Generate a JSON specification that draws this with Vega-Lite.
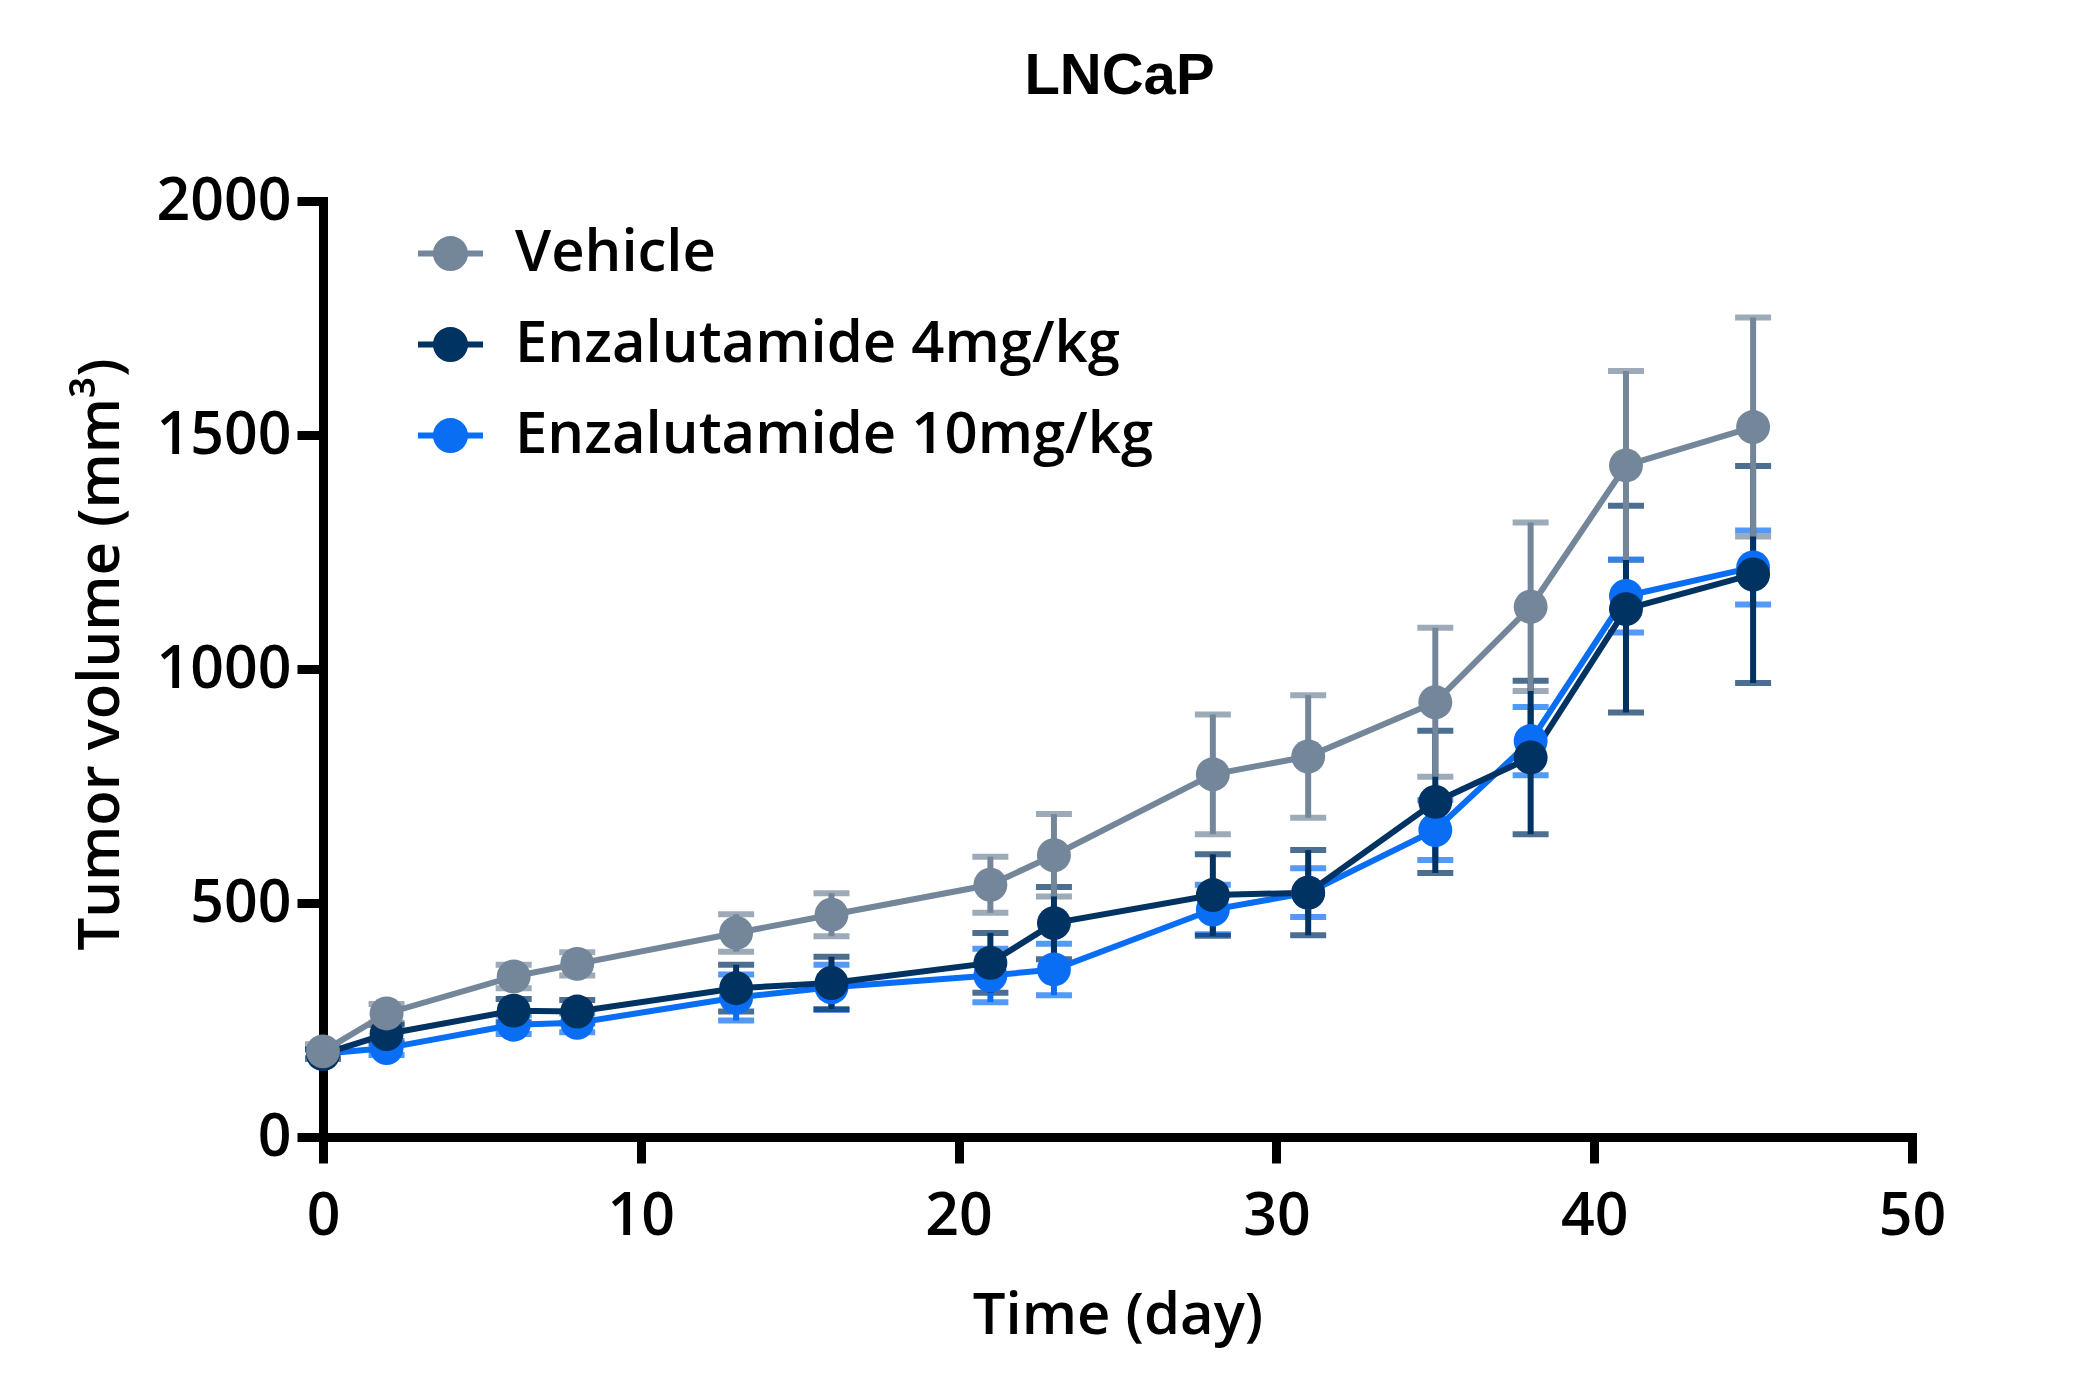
{
  "$schema": "https://vega.github.io/schema/vega-lite/v6.json",
  "description": "LNCaP tumor volume over time, mean with SEM error bars",
  "autosize": "none",
  "width": 1589,
  "height": 936,
  "padding": {"left": 323, "top": 201, "right": 179, "bottom": 256},
  "background": "white",
  "title": {
    "text": "LNCaP",
    "font": "Liberation Sans",
    "fontSize": 58,
    "fontWeight": "bold",
    "color": "black",
    "anchor": "middle",
    "baseline": "alphabetic",
    "offset": 20,
    "dx": 2
  },
  "data": {
    "values": [
      {"group": "Enzalutamide 10mg/kg", "day": 0, "vol": 178, "sem": 10},
      {"group": "Enzalutamide 10mg/kg", "day": 2, "vol": 190, "sem": 15},
      {"group": "Enzalutamide 10mg/kg", "day": 6, "vol": 240, "sem": 20},
      {"group": "Enzalutamide 10mg/kg", "day": 8, "vol": 244, "sem": 20},
      {"group": "Enzalutamide 10mg/kg", "day": 13, "vol": 298, "sem": 49},
      {"group": "Enzalutamide 10mg/kg", "day": 16, "vol": 320, "sem": 48},
      {"group": "Enzalutamide 10mg/kg", "day": 21, "vol": 345, "sem": 57},
      {"group": "Enzalutamide 10mg/kg", "day": 23, "vol": 358, "sem": 55},
      {"group": "Enzalutamide 10mg/kg", "day": 28, "vol": 486, "sem": 53},
      {"group": "Enzalutamide 10mg/kg", "day": 31, "vol": 522, "sem": 52},
      {"group": "Enzalutamide 10mg/kg", "day": 35, "vol": 656, "sem": 64},
      {"group": "Enzalutamide 10mg/kg", "day": 38, "vol": 846, "sem": 73},
      {"group": "Enzalutamide 10mg/kg", "day": 41, "vol": 1156, "sem": 78},
      {"group": "Enzalutamide 10mg/kg", "day": 45, "vol": 1217, "sem": 79},
      {"group": "Enzalutamide 4mg/kg", "day": 0, "vol": 177, "sem": 10},
      {"group": "Enzalutamide 4mg/kg", "day": 2, "vol": 220, "sem": 20},
      {"group": "Enzalutamide 4mg/kg", "day": 6, "vol": 270, "sem": 25},
      {"group": "Enzalutamide 4mg/kg", "day": 8, "vol": 268, "sem": 25},
      {"group": "Enzalutamide 4mg/kg", "day": 13, "vol": 318, "sem": 50},
      {"group": "Enzalutamide 4mg/kg", "day": 16, "vol": 329, "sem": 56},
      {"group": "Enzalutamide 4mg/kg", "day": 21, "vol": 372, "sem": 64},
      {"group": "Enzalutamide 4mg/kg", "day": 23, "vol": 457, "sem": 77},
      {"group": "Enzalutamide 4mg/kg", "day": 28, "vol": 517, "sem": 87},
      {"group": "Enzalutamide 4mg/kg", "day": 31, "vol": 522, "sem": 91},
      {"group": "Enzalutamide 4mg/kg", "day": 35, "vol": 716, "sem": 152},
      {"group": "Enzalutamide 4mg/kg", "day": 38, "vol": 811, "sem": 164},
      {"group": "Enzalutamide 4mg/kg", "day": 41, "vol": 1128, "sem": 221},
      {"group": "Enzalutamide 4mg/kg", "day": 45, "vol": 1202, "sem": 232},
      {"group": "Vehicle", "day": 0, "vol": 183, "sem": 15},
      {"group": "Vehicle", "day": 2, "vol": 264, "sem": 20},
      {"group": "Vehicle", "day": 6, "vol": 343, "sem": 25},
      {"group": "Vehicle", "day": 8, "vol": 370, "sem": 25},
      {"group": "Vehicle", "day": 13, "vol": 436, "sem": 40},
      {"group": "Vehicle", "day": 16, "vol": 475, "sem": 46},
      {"group": "Vehicle", "day": 21, "vol": 539, "sem": 60},
      {"group": "Vehicle", "day": 23, "vol": 602, "sem": 88},
      {"group": "Vehicle", "day": 28, "vol": 775, "sem": 128},
      {"group": "Vehicle", "day": 31, "vol": 813, "sem": 131},
      {"group": "Vehicle", "day": 35, "vol": 929, "sem": 159},
      {"group": "Vehicle", "day": 38, "vol": 1133, "sem": 180},
      {"group": "Vehicle", "day": 41, "vol": 1435, "sem": 202},
      {"group": "Vehicle", "day": 45, "vol": 1517, "sem": 234}
    ]
  },
  "encoding": {
    "x": {
      "field": "day",
      "type": "quantitative",
      "title": "Time (day)",
      "scale": {"domain": [0, 50], "nice": false},
      "axis": {
        "values": [0, 10, 20, 30, 40, 50],
        "format": "d",
        "labelPadding": 24,
        "titlePadding": 41
      }
    },
    "y": {
      "field": "vol",
      "type": "quantitative",
      "title": "Tumor volume (mm³)",
      "scale": {"domain": [0, 2000], "nice": false},
      "axis": {
        "values": [0, 500, 1000, 1500, 2000],
        "format": "d",
        "labelPadding": 6,
        "titlePadding": 26,
        "titleY": 453
      }
    },
    "color": {
      "field": "group",
      "type": "nominal",
      "scale": {
        "domain": ["Vehicle", "Enzalutamide 4mg/kg", "Enzalutamide 10mg/kg"],
        "range": ["#74879a", "#003262", "#0a6ef5"]
      },
      "legend": {
        "title": null,
        "orient": "none",
        "legendX": 95,
        "legendY": 20,
        "padding": 0,
        "symbolType": "M -1 -0.09 L 1 -0.09 L 1 0.09 L -1 0.09 Z M 0.54 0 A 0.54 0.54 0 1 1 -0.54 0 A 0.54 0.54 0 1 1 0.54 0 Z",
        "symbolSize": 4225,
        "symbolStrokeWidth": 0,
        "symbolOpacity": 1,
        "labelFont": "Open Sans",
        "labelFontSize": 58,
        "labelFontWeight": 600,
        "labelColor": "black",
        "labelOffset": 32,
        "labelLimit": 1000,
        "rowPadding": 29
      }
    }
  },
  "layer": [
    {
      "mark": {"type": "errorbar", "ticks": true, "size": 36, "thickness": 6},
      "encoding": {"yError": {"field": "sem"}}
    },
    {
      "mark": {"type": "line", "strokeWidth": 6},
      "encoding": {}
    },
    {
      "mark": {"type": "point", "filled": true, "size": 1150, "opacity": 1, "strokeWidth": 0},
      "encoding": {}
    }
  ],
  "config": {
    "font": "Open Sans",
    "view": {"stroke": null},
    "axis": {
      "grid": false,
      "domainColor": "black",
      "domainWidth": 9,
      "domainCap": "square",
      "tickColor": "black",
      "tickWidth": 9,
      "tickSize": 26,
      "labelFont": "Open Sans",
      "labelFontSize": 59,
      "labelFontWeight": 600,
      "labelColor": "black",
      "labelFlush": false,
      "labelOverlap": false,
      "labelBound": false,
      "titleFont": "Open Sans",
      "titleFontSize": 58,
      "titleFontWeight": 600,
      "titleColor": "black"
    }
  }
}
